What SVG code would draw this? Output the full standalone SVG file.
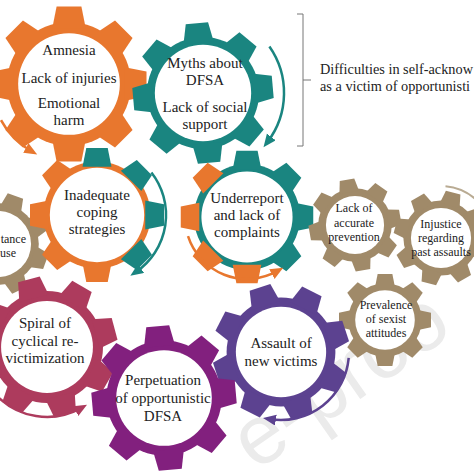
<svg xmlns="http://www.w3.org/2000/svg" width="474" height="474" viewBox="0 0 474 474">
<style>
.t{font-family:"Liberation Serif","Times New Roman",serif;fill:#222;text-anchor:middle}
.b{font-size:15px}
.s{font-size:12px}
.e{text-anchor:end}
.st{text-anchor:start}
.arc{fill:none;stroke-width:2.5}
</style>
<defs>
<path id="tooth" d="M-27,-90 L27,-90 L20,-125 L-20,-125 Z"/>
<g id="half4">
<use href="#tooth"/>
<use href="#tooth" transform="rotate(45)"/>
<use href="#tooth" transform="rotate(90)"/>
<use href="#tooth" transform="rotate(135)"/>
</g>
<g id="teeth">
<use href="#half4"/>
<use href="#half4" transform="rotate(180)"/>
</g>
<marker id="mo" markerUnits="userSpaceOnUse" markerWidth="14" markerHeight="12" refX="6" refY="5.5" orient="auto"><path d="M0,0 L13,5.5 L0,11 Z" fill="#e8772e"/></marker>
<marker id="mt" markerUnits="userSpaceOnUse" markerWidth="14" markerHeight="12" refX="6" refY="5.5" orient="auto"><path d="M0,0 L13,5.5 L0,11 Z" fill="#1a8580"/></marker>
<marker id="mc" markerUnits="userSpaceOnUse" markerWidth="14" markerHeight="12" refX="6" refY="5.5" orient="auto"><path d="M0,0 L13,5.5 L0,11 Z" fill="#ad3b5d"/></marker>
<marker id="mv" markerUnits="userSpaceOnUse" markerWidth="14" markerHeight="12" refX="6" refY="5.5" orient="auto"><path d="M0,0 L13,5.5 L0,11 Z" fill="#5c4290"/></marker>
</defs>
<rect width="474" height="474" fill="#fff"/>
<text transform="translate(256,472) rotate(-35)" x="0" font-family="Liberation Sans, Arial, sans-serif" font-size="84" fill="#ebebeb">e-proo</text>

<g id="gear-left-tan">
<g transform="translate(-2,244) scale(0.408)" fill="#a08a69"><circle r="100"/><use href="#teeth" transform="rotate(20)"/><circle r="81" fill="#fff"/></g>
<text class="t s e" x="26" y="243">tance</text>
<text class="t s e" x="16" y="257">use</text>
</g>

<g id="gear-amnesia">
<g transform="translate(69,84) scale(0.62)" fill="#e8772e"><circle r="100"/><use href="#teeth"/><circle r="82" fill="#fff"/></g>
<text class="t b" x="69" y="55">Amnesia</text>
<text class="t b" x="69" y="83">Lack of injuries</text>
<text class="t b" x="69" y="108">Emotional</text>
<text class="t b" x="69" y="125">harm</text>
</g>

<g id="gear-myths">
<g transform="translate(203,93) scale(0.56)" fill="#1a8580"><circle r="100"/><use href="#teeth" transform="rotate(-5)"/><circle r="86" fill="#fff"/></g>
<text class="t b" x="205" y="68">Myths about</text>
<text class="t b" x="205" y="85">DFSA</text>
<text class="t b" x="205" y="112">Lack of social</text>
<text class="t b" x="205" y="129">support</text>
</g>

<g id="gear-inadequate">
<g transform="translate(97,215) scale(0.536)"><circle r="100" fill="#e8772e"/><use href="#half4" fill="#1a8580"/><use href="#half4" fill="#e8772e" transform="rotate(180)"/><circle r="88" fill="#fff"/></g>
<text class="t b" x="97" y="200">Inadequate</text>
<text class="t b" x="97" y="217">coping</text>
<text class="t b" x="97" y="234">strategies</text>
</g>

<g id="gear-underreport">
<g transform="translate(247,217) scale(0.53)"><circle r="100" fill="#1a8580"/><use href="#half4" fill="#1a8580"/><use href="#half4" fill="#e8772e" transform="rotate(180)"/><circle r="86" fill="#fff"/></g>
<text class="t b" x="247" y="203">Underreport</text>
<text class="t b" x="247" y="220">and lack of</text>
<text class="t b" x="247" y="237">complaints</text>
</g>

<g id="gear-prevention">
<g transform="translate(355,225) scale(0.368)" fill="#a08a69"><circle r="100"/><use href="#teeth" transform="rotate(-10)"/><circle r="79" fill="#fff"/></g>
<text class="t s" x="354" y="212">Lack of</text>
<text class="t s" x="354" y="227">accurate</text>
<text class="t s" x="354" y="241">prevention</text>
</g>

<g id="gear-injustice">
<g transform="translate(441,238) scale(0.376)" fill="#a08a69"><circle r="100"/><use href="#teeth" transform="rotate(15)"/><circle r="80" fill="#fff"/></g>
<text class="t s" x="441" y="228">Injustice</text>
<text class="t s" x="441" y="242">regarding</text>
<text class="t s" x="441" y="256">past assaults</text>
</g>

<g id="gear-prevalence">
<g transform="translate(385,320) scale(0.368)" fill="#a08a69"><circle r="100"/><use href="#teeth" transform="rotate(0)"/><circle r="81" fill="#fff"/></g>
<text class="t s" x="386" y="309">Prevalence</text>
<text class="t s" x="386" y="323">of sexist</text>
<text class="t s" x="386" y="337">attitudes</text>
</g>

<g id="gear-spiral">
<g transform="translate(47,347) scale(0.56)" fill="#ad3b5d"><circle r="100"/><use href="#teeth" transform="rotate(-15)"/><circle r="82" fill="#fff"/></g>
<text class="t b" x="45" y="328">Spiral of</text>
<text class="t b" x="45" y="346">cyclical re-</text>
<text class="t b" x="45" y="363">victimization</text>
</g>

<g id="gear-assault">
<g transform="translate(281,352) scale(0.544)" fill="#5c4290"><circle r="100"/><use href="#teeth" transform="rotate(-18)"/><circle r="83" fill="#fff"/></g>
<text class="t b" x="281" y="348">Assault of</text>
<text class="t b" x="281" y="366">new victims</text>
</g>

<g id="gear-perpetuation">
<g transform="translate(164,398) scale(0.576)" fill="#82207e"><circle r="100"/><use href="#teeth" transform="rotate(-5)"/><circle r="83" fill="#fff"/></g>
<text class="t b" x="163" y="385">Perpetuation</text>
<text class="t b" x="163" y="403">of opportunistic</text>
<text class="t b" x="163" y="421">DFSA</text>
</g>

<g id="connectors">
<path class="arc" stroke="#e8772e" d="M1,120.2 A77,77 0 0 0 31.1,151" marker-end="url(#mo)"/>
<path class="arc" stroke="#1a8580" d="M269.4,46.5 A81,81 0 0 1 267.7,141.7" marker-end="url(#mt)"/>
<path class="arc" stroke="#1a8580" d="M151.4,172.5 A69,69 0 0 1 136.1,271.9" marker-end="url(#mt)"/>
<path class="arc" stroke="#e8772e" d="M188,236.2 A62,62 0 0 0 277.1,271.2" marker-end="url(#mo)"/>
<path class="arc" stroke="#ad3b5d" d="M-4.2,394.7 A70,70 0 0 0 80.9,408.2" marker-end="url(#mc)"/>
<path class="arc" stroke="#5c4290" d="M348.7,357.9 A68,68 0 0 1 269.9,419.1" marker-end="url(#mv)"/>
<path fill="none" stroke="#b9ab93" stroke-width="2" d="M445.5,186.2 A52,52 0 0 1 475.8,199.4"/>
<path fill="none" stroke="#777" stroke-width="1" d="M297,14 L303,14 L303,146 L297,146 M303,80 L311,80"/>
</g>

<g id="label-difficulties">
<text class="t st" x="320" y="74" font-size="14.3">Difficulties in self-acknow</text>
<text class="t st" x="320" y="91" font-size="14.3">as a victim of opportunisti</text>
</g>
</svg>
